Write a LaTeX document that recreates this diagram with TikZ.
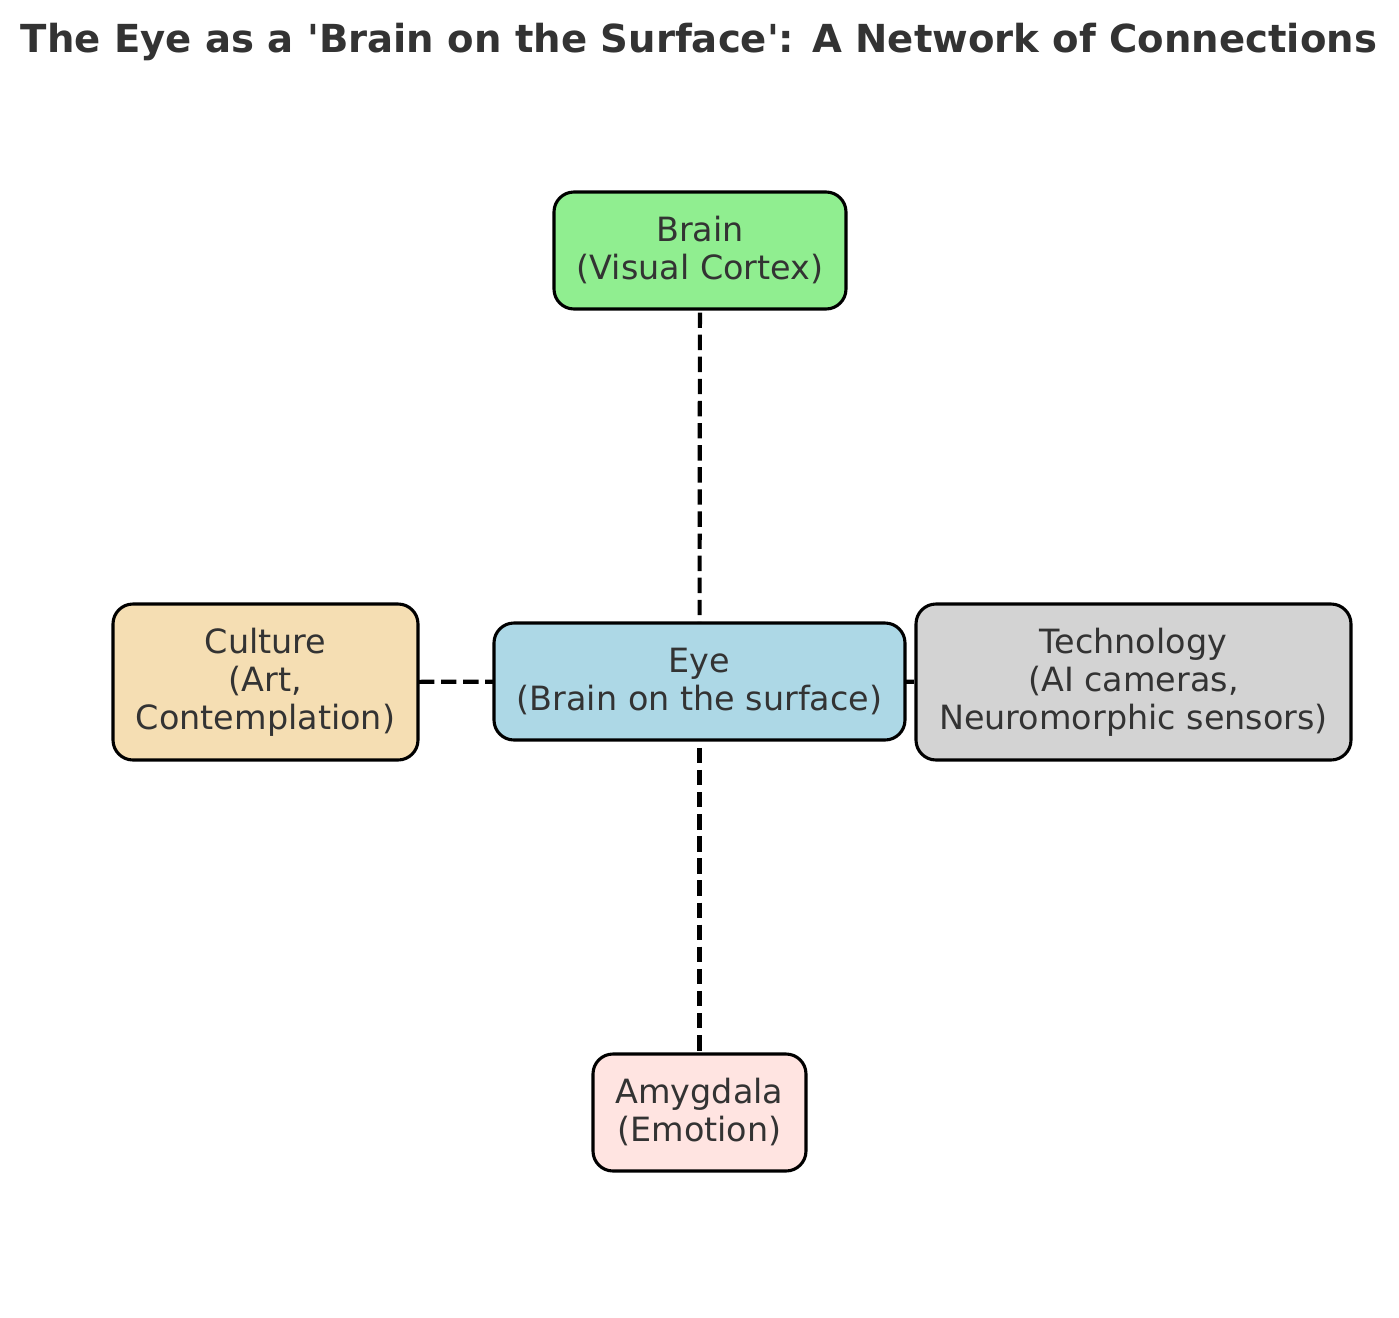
\documentclass[tikz,border=0pt]{standalone}
\usepackage{fontspec}
\setmainfont{DejaVu Sans}[Ligatures=TeXOff]
\usetikzlibrary{backgrounds}
\definecolor{txt}{HTML}{333333}
\definecolor{cbrain}{HTML}{90EE90}
\definecolor{ceye}{HTML}{ADD8E6}
\definecolor{cculture}{HTML}{F5DEB3}
\definecolor{ctech}{HTML}{D3D3D3}
\definecolor{camyg}{HTML}{FFE4E1}
\begin{document}
\begin{tikzpicture}[x=0.5pt,y=-0.5pt,
  box/.style={draw=black, line width=1.55pt, rounded corners=10pt, inner sep=0pt,
    align=center, text=txt, font=\fontsize{16.7}{19}\selectfont},
  link/.style={draw=black, line width=2.08pt, dash pattern=on 7.7pt off 3.35pt}]
\useasboundingbox (0,0) rectangle (1399,1318);
\node[font=\fontsize{19.3}{24}\selectfont\bfseries, text=txt, anchor=base, inner sep=0pt] (title) at (699,52)
  {The Eye as a 'Brain on the Surface': A Network of Connections};
\node[box, fill=cbrain, minimum width=146pt, minimum height=58.5pt] (brain) at (700,250.5)
  {Brain\\(Visual Cortex)};
\node[box, fill=ceye, minimum width=205.5pt, minimum height=58.5pt] (eye) at (699.5,681.5)
  {Eye\\(Brain on the surface)};
\node[box, fill=cculture, minimum width=152.5pt, minimum height=78pt] (culture) at (265.5,682)
  {Culture\\(Art,\\Contemplation)};
\node[box, fill=ctech, minimum width=217.5pt, minimum height=78pt] (tech) at (1133.5,682)
  {Technology\\(AI cameras,\\Neuromorphic sensors)};
\node[box, fill=camyg, minimum width=106.5pt, minimum height=58.5pt] (amyg) at (699.5,1112.5)
  {Amygdala\\(Emotion)};
\begin{pgfonlayer}{background}
\draw[link] (eye.center) -- (brain.center);
\draw[link] (eye.center) -- (amyg.center);
\draw[link] (eye.center) -- (culture.center);
\draw[link] (eye.center) -- (tech.center);
\end{pgfonlayer}
\end{tikzpicture}
\end{document}
